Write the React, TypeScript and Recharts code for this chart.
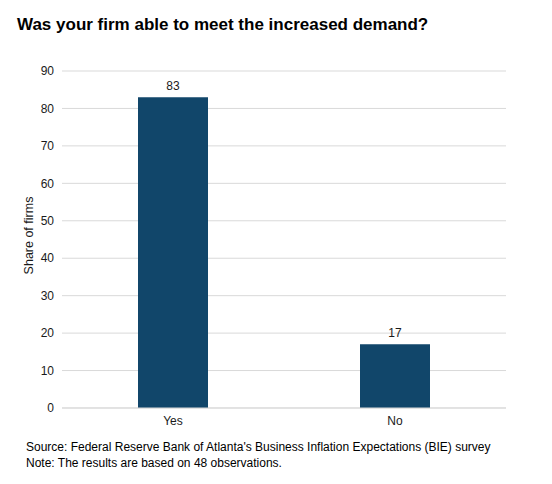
import { Bar, BarChart, CartesianGrid, LabelList, XAxis, YAxis } from "recharts";

const answers = ["Yes", "No"];
const shares = [83, 17];
const yTicks = [0, 10, 20, 30, 40, 50, 60, 70, 80, 90];

const data = answers.map((answer, i) => ({ answer, share: shares[i] }));

const font = "'Liberation Sans', Arial, sans-serif";

export default function App() {
  return (
    <div
      style={{
        position: "absolute",
        top: 0,
        left: 0,
        width: 552,
        height: 484,
        background: "#fff",
        fontFamily: font,
        color: "#000",
      }}
    >
      <div
        style={{
          position: "absolute",
          left: 17,
          top: 15,
          fontSize: 17,
          fontWeight: "bold",
          whiteSpace: "nowrap",
        }}
      >
        Was your firm able to meet the increased demand?
      </div>
      <div style={{ position: "absolute", top: 0, left: 0 }}>
        <BarChart
          width={552}
          height={440}
          data={data}
          margin={{ top: 71, right: 46, bottom: 2, left: 0 }}
          style={{ fontFamily: font }}
        >
          <CartesianGrid vertical={false} stroke="#d9d9d9" />
          <XAxis
            dataKey="answer"
            height={30}
            axisLine={{ stroke: "#d9d9d9" }}
            tickLine={false}
            tick={{ fill: "#1a1a1a", fontSize: 12 }}
          />
          <YAxis
            width={62}
            domain={[0, 90]}
            ticks={yTicks}
            axisLine={false}
            tickLine={false}
            tick={{ fill: "#1a1a1a", fontSize: 12 }}
            label={{
              value: "Share of firms",
              angle: -90,
              position: "center",
              dx: -2,
              dy: -4,
              style: { fill: "#1a1a1a", fontSize: 12.5 },
            }}
          />
          <Bar dataKey="share" fill="#11466a" barSize={70} isAnimationActive={false}>
            <LabelList dataKey="share" position="top" offset={7} fill="#1a1a1a" fontSize={12} />
          </Bar>
        </BarChart>
      </div>
      <div
        style={{
          position: "absolute",
          left: 26,
          top: 439,
          fontSize: 12,
          lineHeight: "16px",
          whiteSpace: "nowrap",
        }}
      >
        <div>Source: Federal Reserve Bank of Atlanta's Business Inflation Expectations (BIE) survey</div>
        <div>Note: The results are based on 48 observations.</div>
      </div>
    </div>
  );
}
